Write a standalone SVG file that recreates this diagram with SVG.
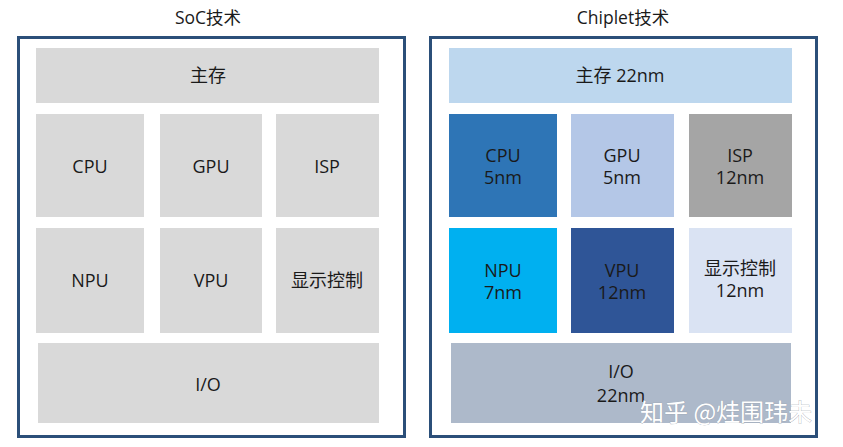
<svg xmlns="http://www.w3.org/2000/svg" width="843" height="447" viewBox="0 0 843 447">
<style>
.t{font-family:"Open Sans","Noto Sans","Noto Sans CJK SC",sans-serif;font-size:18px;fill:#1a1a1a;text-anchor:middle}
.title{font-size:17.5px}
.frame{fill:#ffffff;stroke:#2b4f79;stroke-width:3}
.g{fill:#d9d9d9}
.wm{font-family:"Noto Sans CJK SC","Noto Sans",sans-serif;font-size:24px;fill:#ffffff;stroke:#9aa3ad;stroke-width:0.6;paint-order:stroke}
</style>
<rect width="843" height="447" fill="#ffffff"/>
<g id="soc">
<text class="t title" x="208" y="24">SoC技术</text>
<rect class="frame" x="18.5" y="37.5" width="386" height="399"/>
<g id="soc-mem"><rect class="g" x="36" y="48" width="343" height="55"/><text class="t" x="208" y="82">主存</text></g>
<g id="soc-cpu"><rect class="g" x="36" y="114" width="108" height="103"/><text class="t" x="90" y="173">CPU</text></g>
<g id="soc-gpu"><rect class="g" x="160" y="114" width="102" height="103"/><text class="t" x="211" y="173">GPU</text></g>
<g id="soc-isp"><rect class="g" x="276" y="114" width="103" height="103"/><text class="t" x="327" y="173">ISP</text></g>
<g id="soc-npu"><rect class="g" x="36" y="228" width="108" height="105"/><text class="t" x="90" y="287">NPU</text></g>
<g id="soc-vpu"><rect class="g" x="160" y="228" width="102" height="105"/><text class="t" x="211" y="287">VPU</text></g>
<g id="soc-disp"><rect class="g" x="276" y="228" width="103" height="105"/><text class="t" x="327" y="287">显示控制</text></g>
<g id="soc-io"><rect class="g" x="38" y="343" width="341" height="80"/><text class="t" x="208" y="391">I/O</text></g>
</g>
<g id="chiplet">
<text class="t title" x="623" y="24">Chiplet技术</text>
<rect class="frame" x="430.5" y="37.5" width="386" height="399"/>
<g id="ch-mem"><rect fill="#bdd7ee" x="449" y="48" width="343" height="55"/><text class="t" x="620" y="82">主存 22nm</text></g>
<g id="ch-cpu"><rect fill="#2e75b6" x="449" y="114" width="108" height="103"/><text class="t" x="503" y="162">CPU</text><text class="t" x="503" y="184">5nm</text></g>
<g id="ch-gpu"><rect fill="#b4c7e7" x="571" y="114" width="103" height="103"/><text class="t" x="622" y="162">GPU</text><text class="t" x="622" y="184">5nm</text></g>
<g id="ch-isp"><rect fill="#a5a5a5" x="689" y="114" width="103" height="103"/><text class="t" x="740" y="162">ISP</text><text class="t" x="740" y="184">12nm</text></g>
<g id="ch-npu"><rect fill="#00b0f0" x="449" y="228" width="108" height="105"/><text class="t" x="503" y="277">NPU</text><text class="t" x="503" y="299">7nm</text></g>
<g id="ch-vpu"><rect fill="#2f5597" x="571" y="228" width="103" height="105"/><text class="t" x="622" y="277">VPU</text><text class="t" x="622" y="299">12nm</text></g>
<g id="ch-disp"><rect fill="#dae3f3" x="689" y="228" width="103" height="105"/><text class="t" x="740" y="275">显示控制</text><text class="t" x="740" y="297">12nm</text></g>
<g id="ch-io"><rect fill="#adb9ca" x="451" y="343" width="340" height="80"/><text class="t" x="621" y="378">I/O</text><text class="t" x="621" y="402">22nm</text></g>
</g>
<text class="wm" x="640" y="421">知乎 @烓围玮未</text>
</svg>
